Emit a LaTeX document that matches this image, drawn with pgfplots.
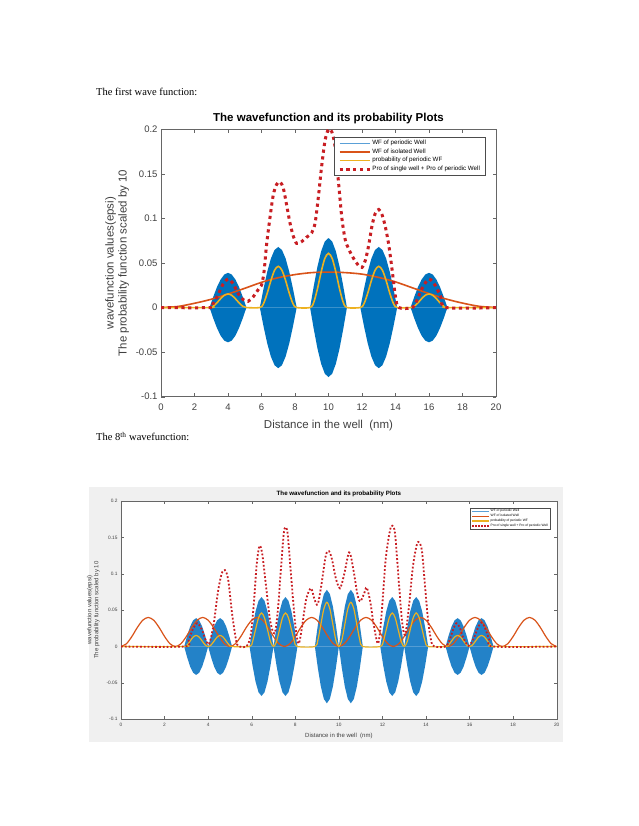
\documentclass[border=0pt]{standalone}
\usepackage{fontspec}
\setmainfont{Liberation Serif}
\setsansfont{Liberation Sans}
\usepackage{pgfplots}
\usepackage{pgfplotstable}
\pgfplotsset{compat=1.18}

\definecolor{mblue}{RGB}{0,114,189}
\definecolor{mblue2}{RGB}{35,130,200}
\definecolor{mlight}{RGB}{90,160,215}
\definecolor{morange}{RGB}{217,83,25}
\definecolor{myellow}{RGB}{237,177,32}
\definecolor{mred}{RGB}{200,30,35}
\definecolor{mgray}{RGB}{240,240,240}

% first wave function: envelope of the periodic WF and its probability
\pgfplotstableread{
x up lo yel
0 0 0 0
2.9 0 0 0
3.12 0.01205 -0.01205 0.00145
3.34 0.02293 -0.02293 0.00526
3.56 0.03155 -0.03155 0.00996
3.78 0.03709 -0.03709 0.01376
4.00 0.039 -0.039 0.01521
4.22 0.03709 -0.03709 0.01376
4.44 0.03155 -0.03155 0.00996
4.66 0.02293 -0.02293 0.00526
4.88 0.01205 -0.01205 0.00145
5.1 0 0 0
5.9 0 0 0
6.12 0.02101 -0.02101 0.00442
6.34 0.03998 -0.03998 0.01598
6.56 0.05501 -0.05501 0.03026
6.78 0.06467 -0.06467 0.04182
7.00 0.068 -0.068 0.04624
7.22 0.06467 -0.06467 0.04182
7.44 0.05501 -0.05501 0.03026
7.66 0.03998 -0.03998 0.01598
7.88 0.02101 -0.02101 0.00442
8.1 0 0 0
8.9 0 0 0
9.12 0.0241 -0.0241 0.00581
9.34 0.04586 -0.04586 0.02102
9.56 0.0631 -0.0631 0.03982
9.78 0.07418 -0.07418 0.05503
10.0 0.078 -0.078 0.06084
10.22 0.07418 -0.07418 0.05503
10.44 0.0631 -0.0631 0.03982
10.66 0.04586 -0.04586 0.02102
10.88 0.0241 -0.0241 0.00581
11.1 0 0 0
11.9 0 0 0
12.12 0.02101 -0.02101 0.00442
12.34 0.03998 -0.03998 0.01598
12.56 0.05501 -0.05501 0.03026
12.78 0.06467 -0.06467 0.04182
13.00 0.068 -0.068 0.04624
13.22 0.06467 -0.06467 0.04182
13.44 0.05501 -0.05501 0.03026
13.66 0.03998 -0.03998 0.01598
13.88 0.02101 -0.02101 0.00442
14.1 0 0 0
14.9 0 0 0
15.12 0.01205 -0.01205 0.00145
15.34 0.02293 -0.02293 0.00526
15.56 0.03155 -0.03155 0.00996
15.78 0.03709 -0.03709 0.01376
16.00 0.039 -0.039 0.01521
16.22 0.03709 -0.03709 0.01376
16.44 0.03155 -0.03155 0.00996
16.66 0.02293 -0.02293 0.00526
16.88 0.01205 -0.01205 0.00145
17.1 0 0 0
20 0 0 0
}\wellA

\pgfplotstableread{
x y
0 0
1 0.0012
2 0.0048
3 0.0093
4 0.0152
5 0.0216
6 0.0283
7 0.0335
8 0.0370
9 0.0392
10 0.0398
11 0.0392
12 0.0375
13 0.0338
14 0.0288
15 0.0222
16 0.0157
17 0.0097
18 0.005
19 0.0014
20 0
}\isoA

\pgfplotstableread{
x y
0 0
2.9 0
3.1 0.004
3.4 0.014
3.7 0.026
4.0 0.032
4.3 0.027
4.6 0.016
4.9 0.009
5.2 0.007
5.5 0.012
5.8 0.02
6.0 0.025
6.15 0.04
6.3 0.07
6.5 0.1
6.7 0.126
6.9 0.138
7.1 0.141
7.3 0.134
7.5 0.115
7.7 0.095
7.9 0.08
8.1 0.072
8.4 0.074
8.7 0.079
9.0 0.084
9.2 0.095
9.4 0.125
9.6 0.16
9.8 0.188
10.0 0.2
10.2 0.197
10.4 0.18
10.6 0.14
10.8 0.1
11.0 0.076
11.2 0.066
11.5 0.055
11.8 0.047
12.0 0.045
12.2 0.053
12.4 0.07
12.6 0.092
12.8 0.106
13.0 0.11
13.2 0.104
13.4 0.09
13.6 0.07
13.8 0.042
14.0 0.012
14.2 0
15.0 0
15.3 0.009
15.6 0.022
16.0 0.032
16.4 0.024
16.7 0.012
17.05 0
20 0
}\redA

% 8th wave function
\pgfplotstableread{
x up lo yel
0 0 0 0
2.9 0 0 0
3.0375 0.01493 -0.01493 0.00223
3.175 0.02758 -0.02758 0.00761
3.3125 0.03603 -0.03603 0.01298
3.45 0.039 -0.039 0.01521
3.5875 0.03603 -0.03603 0.01298
3.725 0.02758 -0.02758 0.00761
3.8625 0.01493 -0.01493 0.00223
4.0 0 0 0
4.1375 0.01493 -0.01493 0.00223
4.275 0.02758 -0.02758 0.00761
4.4125 0.03603 -0.03603 0.01298
4.55 0.039 -0.039 0.01521
4.6875 0.03603 -0.03603 0.01298
4.825 0.02758 -0.02758 0.00761
4.9625 0.01493 -0.01493 0.00223
5.1 0 0 0
5.9 0 0 0
6.0375 0.02602 -0.02602 0.00677
6.175 0.04808 -0.04808 0.02312
6.3125 0.06283 -0.06283 0.03947
6.45 0.068 -0.068 0.04624
6.5875 0.06283 -0.06283 0.03947
6.725 0.04808 -0.04808 0.02312
6.8625 0.02602 -0.02602 0.00677
7.0 0 0 0
7.1375 0.02602 -0.02602 0.00677
7.275 0.04808 -0.04808 0.02312
7.4125 0.06283 -0.06283 0.03947
7.55 0.068 -0.068 0.04624
7.6875 0.06283 -0.06283 0.03947
7.825 0.04808 -0.04808 0.02312
7.9625 0.02602 -0.02602 0.00677
8.1 0 0 0
8.9 0 0 0
9.0375 0.02985 -0.02985 0.00891
9.175 0.05515 -0.05515 0.03042
9.3125 0.07206 -0.07206 0.05193
9.45 0.078 -0.078 0.06084
9.5875 0.07206 -0.07206 0.05193
9.725 0.05515 -0.05515 0.03042
9.8625 0.02985 -0.02985 0.00891
10.0 0 0 0
10.1375 0.02985 -0.02985 0.00891
10.275 0.05515 -0.05515 0.03042
10.4125 0.07206 -0.07206 0.05193
10.55 0.078 -0.078 0.06084
10.6875 0.07206 -0.07206 0.05193
10.825 0.05515 -0.05515 0.03042
10.9625 0.02985 -0.02985 0.00891
11.1 0 0 0
11.9 0 0 0
12.0375 0.02602 -0.02602 0.00677
12.175 0.04808 -0.04808 0.02312
12.3125 0.06283 -0.06283 0.03947
12.45 0.068 -0.068 0.04624
12.5875 0.06283 -0.06283 0.03947
12.725 0.04808 -0.04808 0.02312
12.8625 0.02602 -0.02602 0.00677
13.0 0 0 0
13.1375 0.02602 -0.02602 0.00677
13.275 0.04808 -0.04808 0.02312
13.4125 0.06283 -0.06283 0.03947
13.55 0.068 -0.068 0.04624
13.6875 0.06283 -0.06283 0.03947
13.825 0.04808 -0.04808 0.02312
13.9625 0.02602 -0.02602 0.00677
14.1 0 0 0
14.9 0 0 0
15.0375 0.01493 -0.01493 0.00223
15.175 0.02758 -0.02758 0.00761
15.3125 0.03603 -0.03603 0.01298
15.45 0.039 -0.039 0.01521
15.5875 0.03603 -0.03603 0.01298
15.725 0.02758 -0.02758 0.00761
15.8625 0.01493 -0.01493 0.00223
16.0 0 0 0
16.1375 0.01493 -0.01493 0.00223
16.275 0.02758 -0.02758 0.00761
16.4125 0.03603 -0.03603 0.01298
16.55 0.039 -0.039 0.01521
16.6875 0.03603 -0.03603 0.01298
16.825 0.02758 -0.02758 0.00761
16.9625 0.01493 -0.01493 0.00223
17.1 0 0 0
20 0 0 0
}\wellB

\pgfplotstableread{
x y
0 0
0.25 0.00382
0.5 0.01382
0.75 0.02618
1 0.03618
1.25 0.04
1.5 0.03618
1.75 0.02618
2 0.01382
2.25 0.00382
2.5 0
2.75 0.00382
3 0.01382
3.25 0.02618
3.5 0.03618
3.75 0.04
4 0.03618
4.25 0.02618
4.5 0.01382
4.75 0.00382
5 0
5.25 0.00382
5.5 0.01382
5.75 0.02618
6 0.03618
6.25 0.04
6.5 0.03618
6.75 0.02618
7 0.01382
7.25 0.00382
7.5 0
7.75 0.00382
8 0.01382
8.25 0.02618
8.5 0.03618
8.75 0.04
9 0.03618
9.25 0.02618
9.5 0.01382
9.75 0.00382
10 0
10.25 0.00382
10.5 0.01382
10.75 0.02618
11 0.03618
11.25 0.04
11.5 0.03618
11.75 0.02618
12 0.01382
12.25 0.00382
12.5 0
12.75 0.00382
13 0.01382
13.25 0.02618
13.5 0.03618
13.75 0.04
14 0.03618
14.25 0.02618
14.5 0.01382
14.75 0.00382
15 0
15.25 0.00382
15.5 0.01382
15.75 0.02618
16 0.03618
16.25 0.04
16.5 0.03618
16.75 0.02618
17 0.01382
17.25 0.00382
17.5 0
17.75 0.00382
18 0.01382
18.25 0.02618
18.5 0.03618
18.75 0.04
19 0.03618
19.25 0.02618
19.5 0.01382
19.75 0.00382
20 0
}\isoB

\pgfplotstableread{
x y
0 0
2.9 0
3.1 0.008
3.3 0.024
3.5 0.032
3.7 0.024
3.9 0.008
4.05 0.004
4.25 0.03
4.45 0.075
4.62 0.1
4.77 0.105
4.92 0.092
5.1 0.045
5.3 0.006
5.45 0
5.75 0
5.95 0.015
6.1 0.06
6.22 0.11
6.35 0.138
6.48 0.128
6.65 0.085
6.85 0.035
7.05 0.018
7.2 0.05
7.35 0.11
7.47 0.155
7.55 0.164
7.65 0.155
7.8 0.1
8.0 0.03
8.15 0.004
8.3 0.025
8.5 0.065
8.72 0.08
8.88 0.065
9.03 0.058
9.2 0.085
9.4 0.125
9.55 0.131
9.7 0.118
9.85 0.095
10.05 0.08
10.25 0.1
10.42 0.125
10.52 0.128
10.7 0.1
10.85 0.072
10.98 0.062
11.15 0.072
11.28 0.081
11.45 0.06
11.6 0.03
11.8 0.004
11.95 0.04
12.15 0.12
12.35 0.16
12.46 0.166
12.58 0.155
12.75 0.09
12.9 0.035
13.04 0.016
13.2 0.05
13.4 0.11
13.58 0.14
13.7 0.143
13.82 0.13
13.95 0.085
14.1 0.035
14.25 0.006
14.4 0
14.9 0
15.1 0.01
15.25 0.024
15.4 0.032
15.55 0.026
15.7 0.013
15.95 0.001
16.2 0.012
16.4 0.027
16.55 0.033
16.7 0.026
16.9 0.01
17.1 0
20 0
}\redB

\pgfplotsset{
  matlab/.style={
    scale only axis, anchor=south west,
    xmin=0, xmax=20, ymin=-0.1, ymax=0.2,
    xtick={0,2,...,20},
    ytick={-0.1,-0.05,0,0.05,0.1,0.15,0.2},
    scaled y ticks=false,
    yticklabel style={/pgf/number format/fixed, /pgf/number format/precision=2},
    /pgf/number format/assume math mode=true,
    tick align=inside,
    axis line style={black!60}, tick style={black!60},
    axis background/.style={fill=white},
    ylabel style={align=center},
    title={The wavefunction and its probability Plots},
    xlabel={Distance in the well~ (nm)},
    ylabel={wavefunction values(epsi)\\The probability function scaled by 10},
    legend cell align=left,
  },
}

\begin{document}
\begin{tikzpicture}
\fill[white] (0pt,0pt) rectangle (638pt,826pt);
\useasboundingbox (0pt,0pt) rectangle (638pt,826pt);
\node[anchor=base west, inner sep=0pt, font=\fontsize{10.5}{12}\selectfont] at (96pt,730pt) {The first wave function:};
\node[anchor=base west, inner sep=0pt, font=\fontsize{10.5}{12}\selectfont] at (96pt,385pt) {The 8\textsuperscript{th} wavefunction:};
\fill[mgray] (89pt,84pt) rectangle (563pt,339pt);

\begin{axis}[matlab,
  at={(161pt,429.3pt)}, width=335pt, height=267.4pt,
  major tick length=3.5pt,
  ticklabel style={font=\fontsize{9.5}{10}\sffamily, text=black!75},
  xticklabel style={yshift=-4pt},
  title style={font=\fontsize{11.5}{13}\sffamily\bfseries, yshift=-4pt},
  label style={font=\fontsize{11.5}{13}\sffamily, text=black!75},
  xlabel style={yshift=-2pt},
  legend style={at={(rel axis cs:0.516,0.97)}, anchor=north west,
    font=\fontsize{6.2}{7}\sffamily, draw=black!70, inner xsep=4pt, inner ysep=1.5pt,
    nodes={inner sep=1.3pt}, row sep=0pt},
  legend image code/.code={\draw[#1] (0pt,0pt) -- (30pt,0pt);},
]
\addplot[fill=mblue, draw=none, forget plot] table[x=x, y=up]{\wellA} \closedcycle;
\addplot[fill=mblue, draw=none, forget plot] table[x=x, y=lo]{\wellA} \closedcycle;
\addplot[morange, line width=1.6pt, smooth, forget plot] table[x=x, y=y]{\isoA};
\addplot[myellow, line width=1.6pt, smooth, forget plot] table[x=x, y=yel]{\wellA};
\addplot[mred, line width=3pt, dash pattern=on 3.2pt off 3.6pt, smooth, tension=0.5, forget plot] table[x=x, y=y]{\redA};
\addlegendimage{mlight, line width=0.7pt}
\addlegendimage{morange, line width=1.6pt}
\addlegendimage{myellow, line width=1.6pt}
\addlegendimage{mred, line width=3pt, dash pattern=on 3.2pt off 3.6pt}
\legend{WF of periodic Well, WF of isolated Well, probability of periodic WF, Pro of single well + Pro of periodic Well}
\end{axis}

\begin{axis}[matlab,
  at={(121pt,106.7pt)}, width=435.7pt, height=218.3pt,
  major tick length=3pt,
  ticklabel style={font=\fontsize{4.8}{5}\sffamily, text=black!75},
  title style={font=\fontsize{6.2}{7}\sffamily\bfseries, yshift=-5pt},
  label style={font=\fontsize{6}{7}\sffamily, text=black!75},
  legend style={at={(rel axis cs:0.801,0.968)}, anchor=north west,
    font=\fontsize{3.3}{3.6}\sffamily, draw=black!70, inner xsep=1.5pt, inner ysep=0.6pt,
    nodes={inner sep=0.5pt}, row sep=0pt},
  legend image code/.code={\draw[#1] (0pt,0pt) -- (17pt,0pt);},
]
\addplot[fill=mblue2, draw=none, forget plot] table[x=x, y=up]{\wellB} \closedcycle;
\addplot[fill=mblue2, draw=none, forget plot] table[x=x, y=lo]{\wellB} \closedcycle;
\addplot[morange, line width=1.2pt, smooth, forget plot] table[x=x, y=y]{\isoB};
\addplot[myellow, line width=1.2pt, smooth, forget plot] table[x=x, y=yel]{\wellB};
\addplot[mred, line width=1.8pt, dash pattern=on 1.8pt off 2pt, smooth, tension=0.5, forget plot] table[x=x, y=y]{\redB};
\addlegendimage{mlight, line width=0.5pt}
\addlegendimage{morange, line width=1.2pt}
\addlegendimage{myellow, line width=1.2pt}
\addlegendimage{mred, line width=1.5pt, dash pattern=on 1.5pt off 1.5pt}
\legend{WF of periodic Well, WF of isolated Well, probability of periodic WF, Pro of single well + Pro of periodic Well}
\end{axis}
\end{tikzpicture}
\end{document}
